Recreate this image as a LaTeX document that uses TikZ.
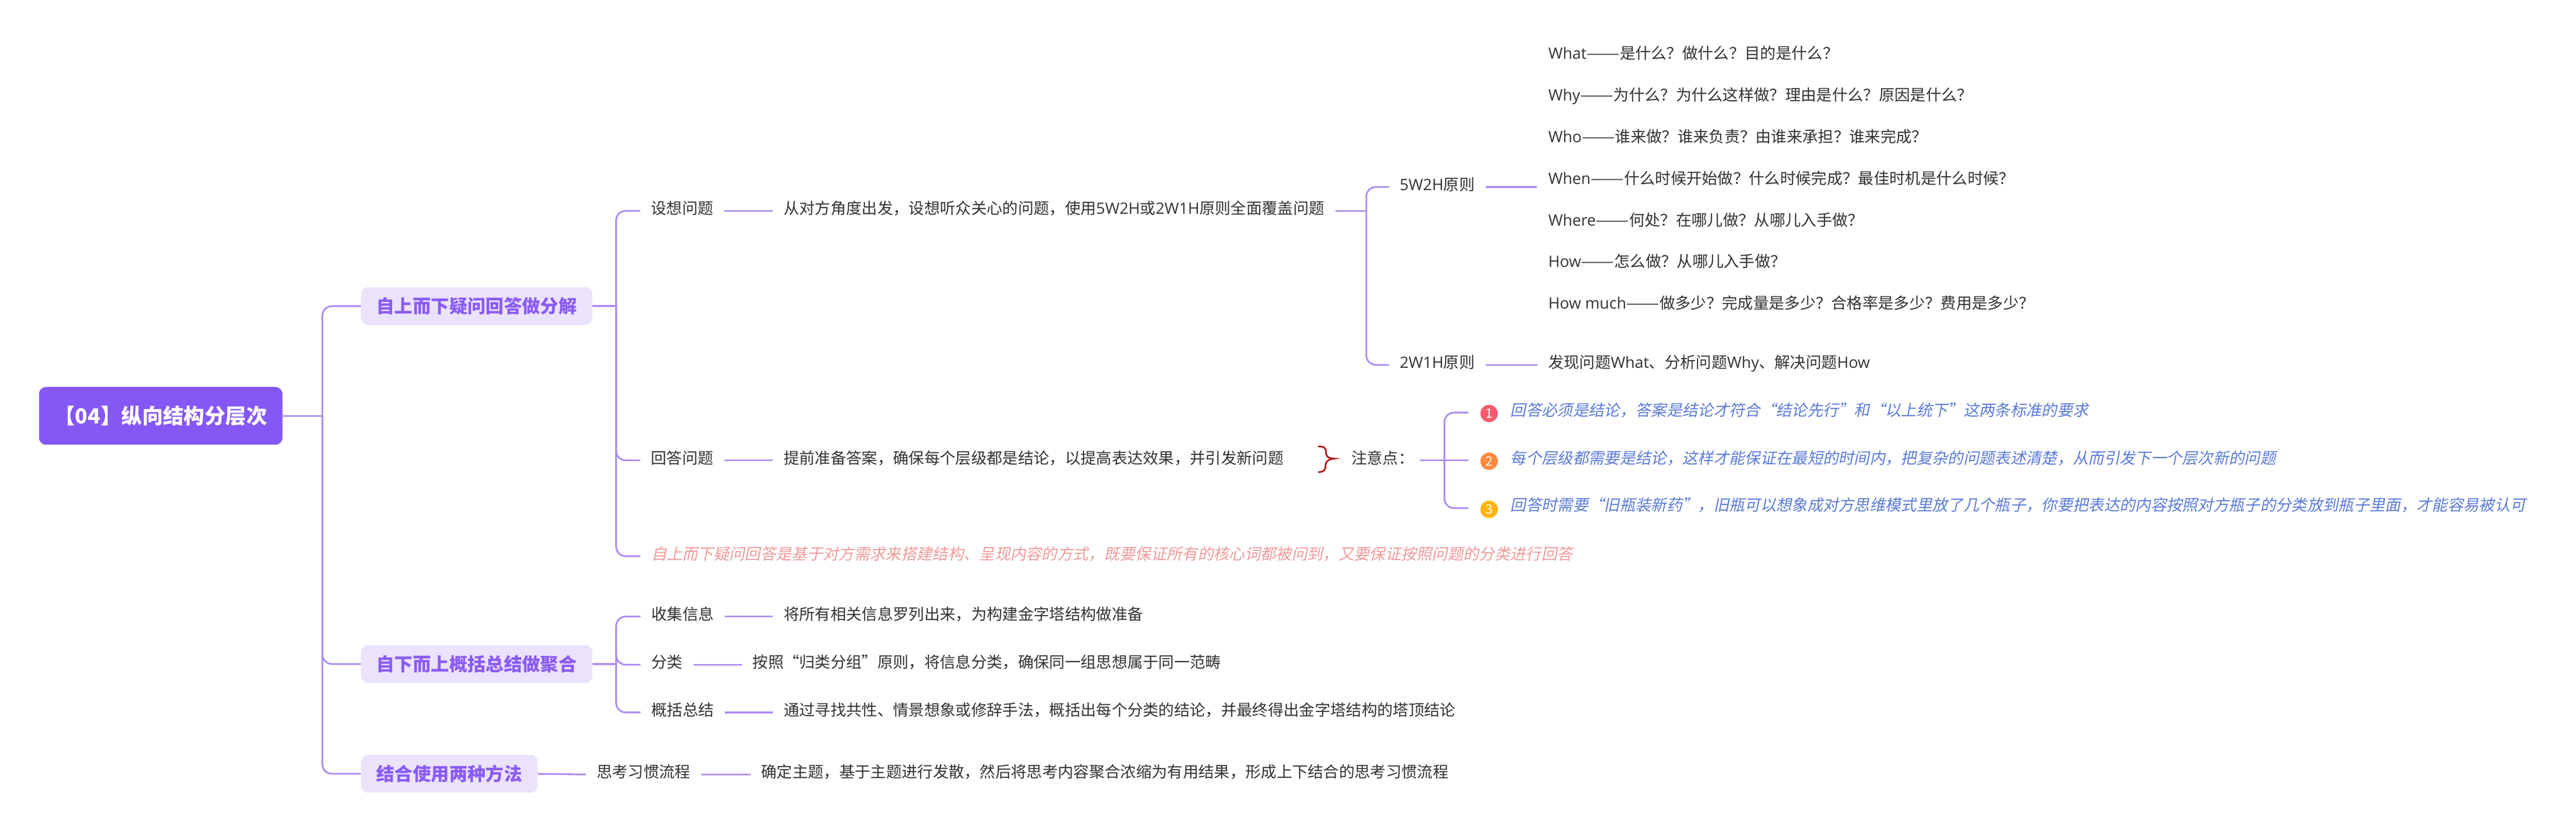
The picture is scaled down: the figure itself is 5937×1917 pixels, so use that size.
\documentclass[tikz,border=0pt]{standalone}
\usepackage{fontspec}
\setmainfont{Noto Sans CJK SC}
\newfontfamily\slantcjk[FakeSlant=0.2]{Noto Sans CJK SC}
\newfontfamily\dashfont[FakeStretch=1.27]{Noto Sans CJK SC}
\newfontfamily\latfont{Open Sans}
\newcommand{\lat}[1]{{\latfont #1}}
\newcommand{\ddash}{{\dashfont ——}}
\definecolor{linkc}{HTML}{AE8DF0}
\definecolor{rootc}{HTML}{8557F5}
\definecolor{boxc}{HTML}{EBE2FC}
\definecolor{labc}{HTML}{8A5CF5}
\definecolor{txtc}{HTML}{333333}
\definecolor{bluec}{HTML}{5B7BD8}
\definecolor{pinkc}{HTML}{F09A9A}
\definecolor{bracec}{HTML}{B22222}
\tikzset{
  link/.style={draw=linkc,line width=2pt,rounded corners=11pt},
  txt/.style={anchor=west,inner xsep=12.25pt,inner ysep=0pt,text height=16pt,text depth=8.3pt,font=\fontsize{18}{18}\selectfont,text=txtc},
  notetxt/.style={txt,font=\fontsize{18}{18}\selectfont\slantcjk,text=bluec},
  warntxt/.style={txt,font=\fontsize{18}{18}\selectfont\slantcjk,text=pinkc},
  rootbox/.style={fill=rootc,rounded corners=8pt,minimum width=280.5pt,minimum height=66.5pt,inner sep=0pt,text=white,font=\fontsize{24}{24}\selectfont\bfseries,text height=21pt,text depth=3pt},
  branchbox/.style={fill=boxc,rounded corners=8pt,minimum height=43.5pt,inner sep=0pt,text=labc,font=\fontsize{21}{21}\selectfont\bfseries,text height=18.5pt,text depth=2.5pt},
  numdot/.style={circle,minimum size=20pt,inner sep=0pt,text=white,font=\fontsize{15}{15}\selectfont},
}
\begin{document}
\begin{tikzpicture}[x=0.5pt,y=-0.5pt]
\useasboundingbox (0,0) rectangle (5937,1917);
% root and branches
\node[rootbox] (root) at (370.5,958.5) {【04】纵向结构分层次};
\node[branchbox,minimum width=266.5pt] (b1) at (1098.5,705.5) {自上而下疑问回答做分解};
\node[branchbox,minimum width=266.5pt] (b2) at (1098.5,1530.5) {自下而上概括总结做聚合};
\node[branchbox,minimum width=203.5pt] (b3) at (1035.5,1783.5) {结合使用两种方法};
\coordinate (t0) at (743,958.5);
\draw[link] (root.east) -- (t0);
\draw[link] (t0) |- (b1.west);
\draw[link] (t0) |- (b2.west);
\draw[link] (t0) |- (b3.west);
% branch 1
\node[txt] (q1) at (1475.5,486) {设想问题};
\node[txt] (q1d) at (1781.5,486) {从对方角度出发，设想听众关心的问题，使用\lat{5W2H}或\lat{2W1H}原则全面覆盖问题};
\node[txt] (r1) at (3201,431) {\lat{5W2H}原则};
\node[txt] (r2) at (3201,841) {\lat{2W1H}原则};
\node[txt] (w1) at (3543.5,128) {\lat{What}\ddash 是什么？做什么？目的是什么？};
\node[txt] (w2) at (3543.5,224) {\lat{Why}\ddash 为什么？为什么这样做？理由是什么？原因是什么？};
\node[txt] (w3) at (3543.5,320.5) {\lat{Who}\ddash 谁来做？谁来负责？由谁来承担？谁来完成？};
\node[txt] (w4) at (3543.5,417) {\lat{When}\ddash 什么时候开始做？什么时候完成？最佳时机是什么时候？};
\node[txt] (w5) at (3543.5,513) {\lat{Where}\ddash 何处？在哪儿做？从哪儿入手做？};
\node[txt] (w6) at (3543.5,608) {\lat{How}\ddash 怎么做？从哪儿入手做？};
\node[txt] (w7) at (3543.5,704) {\lat{How much}\ddash 做多少？完成量是多少？合格率是多少？费用是多少？};
\node[txt] (r2d) at (3543.5,841) {发现问题\lat{What}、分析问题\lat{Why}、解决问题\lat{How}};
\node[txt] (q2) at (1475.5,1061) {回答问题};
\node[txt] (q2d) at (1781.5,1061) {提前准备答案，确保每个层级都是结论，以提高表达效果，并引发新问题};
\node[txt,inner xsep=8.5pt] (nt) at (3097.5,1061) {注意点：};
\node[warntxt] (warn) at (1476,1282) {自上而下疑问回答是基于对方需求来搭建结构、呈现内容的方式，既要保证所有的核心词都被问到，又要保证按照问题的分类进行回答};
\coordinate (t1) at (1420,705.5);
\draw[link] (b1.east) -- (t1);
\draw[link] (t1) |- (q1.west);
\draw[link] (t1) |- (q2.west);
\draw[link] (t1) |- (warn.west);
\draw[link] (q1.east) -- (q1d.west);
\coordinate (t2) at (3149,486);
\draw[link] (q1d.east) -- (t2);
\draw[link] (t2) |- (r1.west);
\draw[link] (t2) |- (r2.west);
\coordinate (e5w) at (3542,431);
\draw[link] (r1.east) -- (e5w);
\draw[link] (r2.east) -- (r2d.west);
\draw[link] (q2.east) -- (q2d.west);
% brace
\draw[bracec,line width=2pt,line cap=round] (3039,1029) .. controls (3052,1029) and (3056,1033) .. (3056,1042) .. controls (3056,1052) and (3060,1056) .. (3075,1057) .. controls (3060,1059) and (3055,1064) .. (3055,1074) .. controls (3055,1084) and (3050,1088) .. (3039,1088);
% notes
\coordinate (t3) at (3329,1061);
\coordinate (e1) at (3384,951);
\coordinate (e2) at (3384,1061);
\coordinate (e3) at (3384,1171);
\coordinate (nte) at (3273,1061);
\draw[link] (nte) -- (t3);
\draw[link] (t3) |- (e1);
\draw[link] (t3) -- (e2);
\draw[link] (t3) |- (e3);
\node[numdot,fill={rgb,255:red,246;green,90;blue,110}] (c1) at (3432,953) {1};
\node[numdot,fill={rgb,255:red,255;green,138;blue,60}] (c2) at (3432,1063) {2};
\node[numdot,fill={rgb,255:red,255;green,179;blue,15}] (c3) at (3432,1174) {3};
\node[notetxt] (n1) at (3456.5,951) {回答必须是结论，答案是结论才符合“结论先行”和“以上统下”这两条标准的要求};
\node[notetxt] (n2) at (3456.5,1061) {每个层级都需要是结论，这样才能保证在最短的时间内，把复杂的问题表述清楚，从而引发下一个层次新的问题};
\node[notetxt] (n3) at (3456.5,1169) {回答时需要“旧瓶装新药”，旧瓶可以想象成对方思维模式里放了几个瓶子，你要把表达的内容按照对方瓶子的分类放到瓶子里面，才能容易被认可};
% branch 2
\node[txt] (s1) at (1476.5,1421) {收集信息};
\node[txt] (s1d) at (1781.5,1421) {将所有相关信息罗列出来，为构建金字塔结构做准备};
\node[txt] (s2) at (1476.5,1532) {分类};
\node[txt] (s2d) at (1709.5,1532) {按照“归类分组”原则，将信息分类，确保同一组思想属于同一范畴};
\node[txt] (s3) at (1476.5,1642) {概括总结};
\node[txt] (s3d) at (1781.5,1642) {通过寻找共性、情景想象或修辞手法，概括出每个分类的结论，并最终得出金字塔结构的塔顶结论};
\coordinate (t4) at (1420,1530.5);
\draw[link] (b2.east) -- (t4);
\draw[link] (t4) |- (s1.west);
\draw[link] (t4) |- (s2.west);
\draw[link] (t4) |- (s3.west);
\draw[link] (s1.east) -- (s1d.west);
\draw[link] (s2.east) -- (s2d.west);
\draw[link] (s3.east) -- (s3d.west);
% branch 3
\node[txt] (h1) at (1350.5,1785) {思考习惯流程};
\node[txt] (h1d) at (1729.5,1785) {确定主题，基于主题进行发散，然后将思考内容聚合浓缩为有用结果，形成上下结合的思考习惯流程};
\draw[link] (b3.east) -- (h1.west);
\draw[link] (h1.east) -- (h1d.west);
\end{tikzpicture}
\end{document}
